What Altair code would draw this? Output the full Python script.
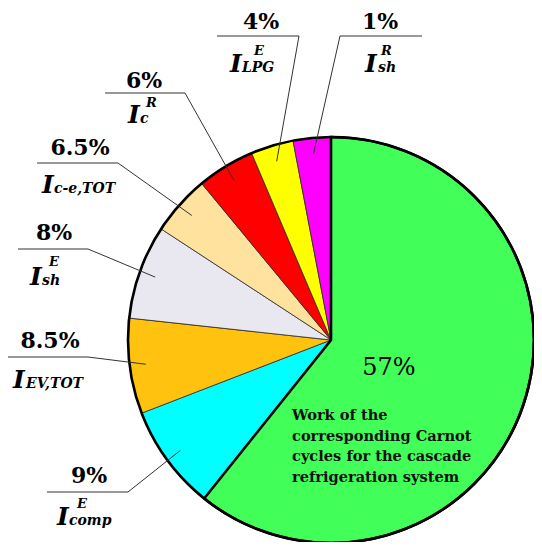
import math
import altair as alt
import pandas as pd

# ---------------- data ----------------
categories = [
    "Work of the corresponding Carnot cycles for the cascade refrigeration system",
    "I comp E", "I EV,TOT", "I sh E", "I c-e,TOT", "I c R", "I LPG E", "I sh R",
]
pct_labels = ["57%", "9%", "8.5%", "8%", "6.5%", "6%", "4%", "1%"]
# slice sizes as drawn in the picture (share of the circle, %)
slice_share = [60.8, 8.4, 7.6, 7.5, 4.8, 4.6, 3.4, 3.0]
sym_main = ["", "I", "I", "I", "I", "I", "I", "I"]
sym_sub = ["", "comp", "EV,TOT", "sh", "c-e,TOT", "c", "LPG", "sh"]
sym_sup = ["", "E", "", "E", "", "R", "E", "R"]
slice_colors = ["#41FF58", "#00FFFF", "#FFC20E", "#E9E8F1", "#FFE29E",
                "#FF0000", "#FFFF00", "#FF00FF"]
green_text = "Work of the\ncorresponding Carnot\ncycles for the cascade\nrefrigeration system"

# ---------------- layout (page pixels) ----------------
OFF = 8
CX, CY, R = 331 - OFF, 340 - OFF, 203
LEADER_R = 0.92 * R
label_layout = {
    1: dict(px=89, py=483, ux1=47, ux2=128, uy=492, lx=128, ly=492, ix=57, iy=525, sx=69, upx=77, upy=508),
    2: dict(px=50, py=348, ux1=7, ux2=88, uy=357, lx=88, ly=357, ix=13, iy=388, sx=26, upx=0, upy=0),
    3: dict(px=54, py=240, ux1=18, ux2=88, uy=249, lx=88, ly=249, ix=30, iy=285, sx=42, upx=49, upy=266),
    4: dict(px=80, py=155, ux1=37, ux2=118, uy=163, lx=118, ly=163, ix=42, iy=193, sx=54, upx=0, upy=0),
    5: dict(px=144, py=88, ux1=105, ux2=185, uy=93, lx=185, ly=93, ix=128, iy=123, sx=140, upx=146, upy=107),
    6: dict(px=261, py=29, ux1=217, ux2=299, uy=36, lx=299, ly=36, ix=230, iy=72, sx=242, upx=254, upy=55),
    7: dict(px=380, py=29, ux1=340, ux2=422, uy=36, lx=340, ly=36, ix=365, iy=72, sx=378, upx=381, upy=55),
}
big_pct_pos = (389, 375)
green_text_pos = (292, 420)

SERIF = "DejaVu Serif"

# ---------------- tables ----------------
starts, ends, acc = [], [], 0.0
for s in slice_share:
    starts.append(acc)
    acc += s
    ends.append(acc)
total = acc

slices = pd.DataFrame({
    "category": categories,
    "start": starts,
    "end": ends,
    "color": slice_colors,
})

theta_scale = alt.Scale(domain=[0, total], range=[0, 2 * math.pi])

rows_pct, rows_under, rows_lead, rows_I, rows_sub, rows_sup = [], [], [], [], [], []
for i, L in label_layout.items():
    mid = (starts[i] + ends[i]) / 2 / total * 2 * math.pi
    inx = CX + LEADER_R * math.sin(mid)
    iny = CY - LEADER_R * math.cos(mid)
    rows_pct.append(dict(x=L["px"] - OFF, y=L["py"] - OFF, t=pct_labels[i]))
    rows_under.append(dict(x=L["ux1"] - OFF, x2=L["ux2"] - OFF, y=L["uy"] - OFF, y2=L["uy"] - OFF))
    rows_lead.append(dict(x=inx, y=iny, x2=L["lx"] - OFF, y2=L["ly"] - OFF))
    rows_I.append(dict(x=L["ix"] - OFF, y=L["iy"] - OFF, t=sym_main[i]))
    rows_sub.append(dict(x=L["sx"] - OFF, y=L["iy"] - OFF, t=sym_sub[i]))
    if sym_sup[i]:
        rows_sup.append(dict(x=L["upx"] - OFF, y=L["upy"] - OFF, t=sym_sup[i]))

px = lambda f: alt.X(f"{f}:Q", scale=None)
py = lambda f: alt.Y(f"{f}:Q", scale=None)

base_arc = alt.Chart(slices).encode(
    theta=alt.Theta("start:Q", scale=theta_scale),
    theta2="end:Q",
    x=alt.value(CX), y=alt.value(CY),
)

pie = base_arc.mark_arc(radius=R, stroke="#2a2a2a", strokeWidth=0.8).encode(
    color=alt.Color("color:N", scale=None)
)

green_outline = base_arc.transform_filter(alt.datum.start == 0).mark_arc(
    radius=R, fillOpacity=0, stroke="black", strokeWidth=2.6
)

outer = alt.Chart(pd.DataFrame({"start": [0.0], "end": [total]})).mark_arc(
    radius=R, fillOpacity=0, stroke="black", strokeWidth=2.6
).encode(
    theta=alt.Theta("start:Q", scale=theta_scale), theta2="end:Q",
    x=alt.value(CX), y=alt.value(CY),
)

under = alt.Chart(pd.DataFrame(rows_under)).mark_rule(color="#333333", strokeWidth=1).encode(
    x=px("x"), x2="x2:Q", y=py("y"), y2="y2:Q"
)
lead = alt.Chart(pd.DataFrame(rows_lead)).mark_rule(color="#333333", strokeWidth=1).encode(
    x=px("x"), x2="x2:Q", y=py("y"), y2="y2:Q"
)

pct_text = alt.Chart(pd.DataFrame(rows_pct)).mark_text(
    font=SERIF, fontSize=22, fontWeight="bold", align="center", baseline="alphabetic", color="black"
).encode(x=px("x"), y=py("y"), text="t:N")

I_text = alt.Chart(pd.DataFrame(rows_I)).mark_text(
    font=SERIF, fontSize=25, fontWeight="bold", fontStyle="italic", align="left",
    baseline="alphabetic", color="black"
).encode(x=px("x"), y=py("y"), text="t:N")

sub_text = alt.Chart(pd.DataFrame(rows_sub)).mark_text(
    font=SERIF, fontSize=14, fontWeight="bold", fontStyle="italic", align="left",
    baseline="alphabetic", color="black"
).encode(x=px("x"), y=py("y"), text="t:N")

sup_text = alt.Chart(pd.DataFrame(rows_sup)).mark_text(
    font=SERIF, fontSize=13, fontWeight="bold", fontStyle="italic", align="left",
    baseline="alphabetic", color="black"
).encode(x=px("x"), y=py("y"), text="t:N")

big_pct = alt.Chart(pd.DataFrame({"x": [big_pct_pos[0] - OFF], "y": [big_pct_pos[1] - OFF],
                                  "t": [pct_labels[0]]})).mark_text(
    font=SERIF, fontSize=24, align="center", baseline="alphabetic", color="black"
).encode(x=px("x"), y=py("y"), text="t:N")

green_lbl = alt.Chart(pd.DataFrame({"x": [green_text_pos[0] - OFF], "y": [green_text_pos[1] - OFF],
                                    "t": [green_text]})).mark_text(
    font=SERIF, fontSize=14.6, fontWeight="bold", align="left", baseline="alphabetic",
    lineBreak="\n", lineHeight=20.7, color="#111111"
).encode(x=px("x"), y=py("y"), text="t:N")

chart = alt.layer(
    pie, green_outline, outer, under, lead, pct_text, I_text, sub_text, sup_text, big_pct, green_lbl
).properties(
    width=526, height=534, padding=0, autosize="none", background="white"
).configure_view(strokeWidth=0)

chart.save("out.html", embed_options={"renderer": "svg", "actions": False})
